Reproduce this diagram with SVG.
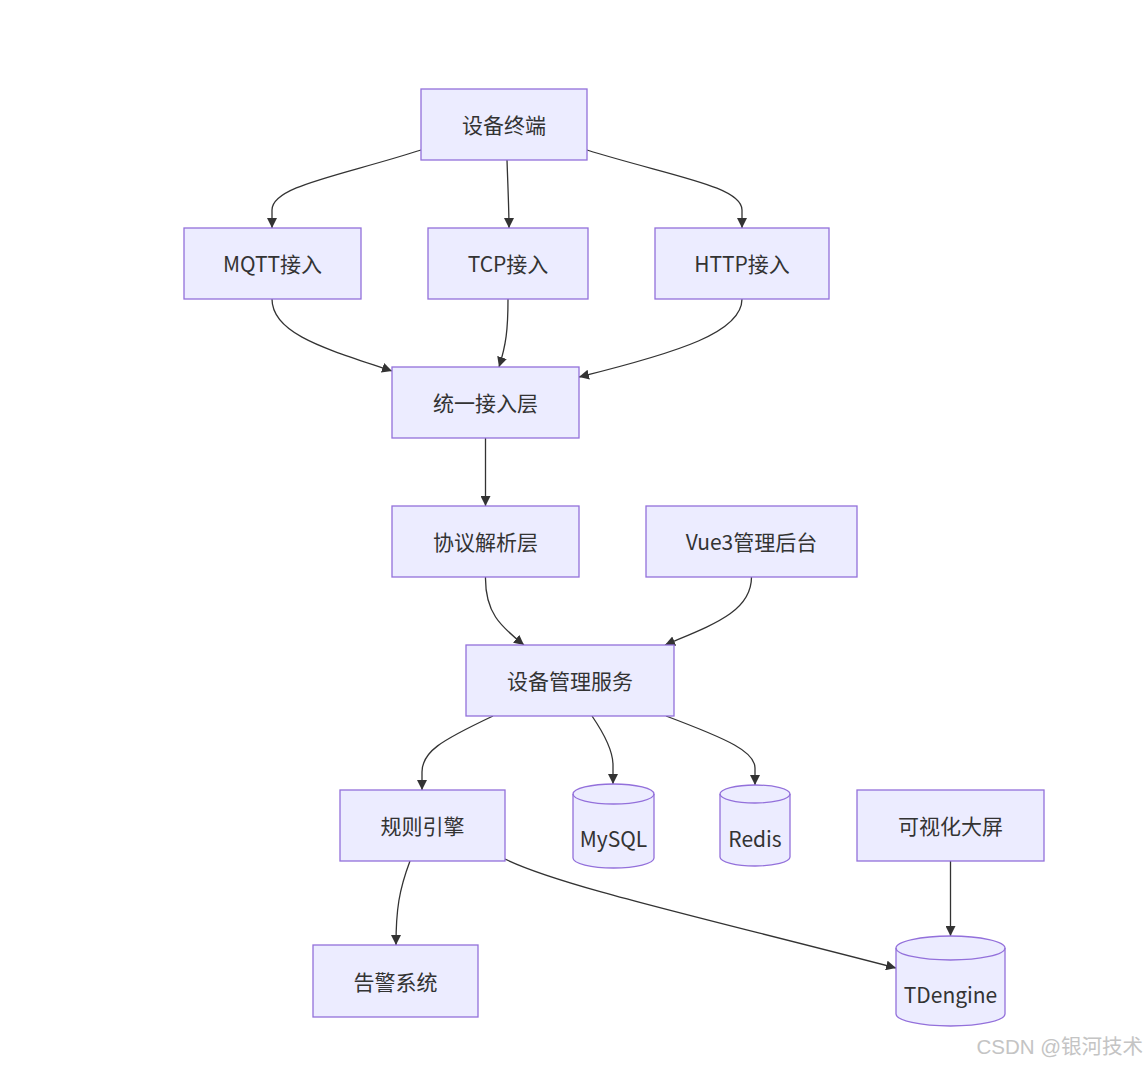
<svg xmlns="http://www.w3.org/2000/svg" width="1148" height="1066" viewBox="0 0 1148 1066">
<style>
.n rect{fill:#ECECFF;stroke:#9370DB;stroke-width:1.3}
.c path.b{fill:#ECECFF;stroke:#9370DB;stroke-width:1.3}
.c path.t{fill:none;stroke:#9370DB;stroke-width:1.3}
text.l{font-family:"Noto Sans CJK SC","Liberation Sans",sans-serif;font-size:21px;fill:#333;text-anchor:middle;dominant-baseline:central}
.e path{fill:none;stroke:#333;stroke-width:1.3}
</style>
<defs>
<marker id="ah" viewBox="0 0 10 10" refX="10" refY="5" markerWidth="10" markerHeight="10" markerUnits="userSpaceOnUse" orient="auto"><path d="M0,0 L10,5 L0,10 z" fill="#333"/></marker>
</defs>
<rect width="1148" height="1066" fill="#fff"/>
<g class="e">
<path d="M421,150 C340,176 272,186 272,210 L272,228" marker-end="url(#ah)"/>
<path d="M507,160 C508,190 509,210 509,228" marker-end="url(#ah)"/>
<path d="M587,150 C670,176 742,186 742,210 L742,228" marker-end="url(#ah)"/>
<path d="M272,299 C272,335 330,350 392,371" marker-end="url(#ah)"/>
<path d="M508,299 C508,330 506,345 499,367" marker-end="url(#ah)"/>
<path d="M742,299 C742,332 680,352 579,377" marker-end="url(#ah)"/>
<path d="M485.5,438 L485.5,506" marker-end="url(#ah)"/>
<path d="M485.5,577 C485,612 500,626 524,645" marker-end="url(#ah)"/>
<path d="M751.5,577 C751.5,612 712,625 665,645" marker-end="url(#ah)"/>
<path d="M493,716 C440,741 422,752 422,772 L422,790" marker-end="url(#ah)"/>
<path d="M592,716 C605,735 613,752 613,765 L613,784" marker-end="url(#ah)"/>
<path d="M666,716 C730,740 755,752 755,768 L755,785" marker-end="url(#ah)"/>
<path d="M410,861 C399,890 396,910 396,945" marker-end="url(#ah)"/>
<path d="M505,859 C560,886 700,917 896,968" marker-end="url(#ah)"/>
<path d="M950.5,861 L950.5,936" marker-end="url(#ah)"/>
</g>
<g id="n1" class="n"><rect x="421" y="89" width="166" height="71"/><text class="l" x="504" y="124">设备终端</text></g>
<g id="n2" class="n"><rect x="184" y="228" width="177" height="71"/><text class="l" x="272.5" y="263">MQTT接入</text></g>
<g id="n3" class="n"><rect x="428" y="228" width="160" height="71"/><text class="l" x="508" y="263">TCP接入</text></g>
<g id="n4" class="n"><rect x="655" y="228" width="174" height="71"/><text class="l" x="742" y="263">HTTP接入</text></g>
<g id="n5" class="n"><rect x="392" y="367" width="187" height="71"/><text class="l" x="485.5" y="402">统一接入层</text></g>
<g id="n6" class="n"><rect x="392" y="506" width="187" height="71"/><text class="l" x="485.5" y="541">协议解析层</text></g>
<g id="n7" class="n"><rect x="646" y="506" width="211" height="71"/><text class="l" x="751.5" y="541">Vue3管理后台</text></g>
<g id="n8" class="n"><rect x="466" y="645" width="208" height="71"/><text class="l" x="570" y="680">设备管理服务</text></g>
<g id="n9" class="n"><rect x="340" y="790" width="165" height="71"/><text class="l" x="422.5" y="825">规则引擎</text></g>
<g id="n10" class="c"><path class="b" d="M573,794 A40.5,10 0 0 1 654,794 L654,858 A40.5,10 0 0 1 573,858 Z"/><path class="t" d="M573,794 A40.5,10 0 0 0 654,794"/><text class="l" x="613.5" y="838">MySQL</text></g>
<g id="n11" class="c"><path class="b" d="M720,794 A35,9 0 0 1 790,794 L790,857 A35,9 0 0 1 720,857 Z"/><path class="t" d="M720,794 A35,9 0 0 0 790,794"/><text class="l" x="755" y="838">Redis</text></g>
<g id="n12" class="n"><rect x="857" y="790" width="187" height="71"/><text class="l" x="950.5" y="825">可视化大屏</text></g>
<g id="n13" class="n"><rect x="313" y="945" width="165" height="72"/><text class="l" x="395.5" y="980.5">告警系统</text></g>
<g id="n14" class="c"><path class="b" d="M896,948 A54.5,12 0 0 1 1005,948 L1005,1014 A54.5,12 0 0 1 896,1014 Z"/><path class="t" d="M896,948 A54.5,12 0 0 0 1005,948"/><text class="l" x="950.5" y="994">TDengine</text></g>
<text x="1143" y="1054" font-family="Liberation Sans,Noto Sans CJK SC,sans-serif" font-size="20.5" fill="#c4c4c4" text-anchor="end">CSDN @银河技术</text>
</svg>
